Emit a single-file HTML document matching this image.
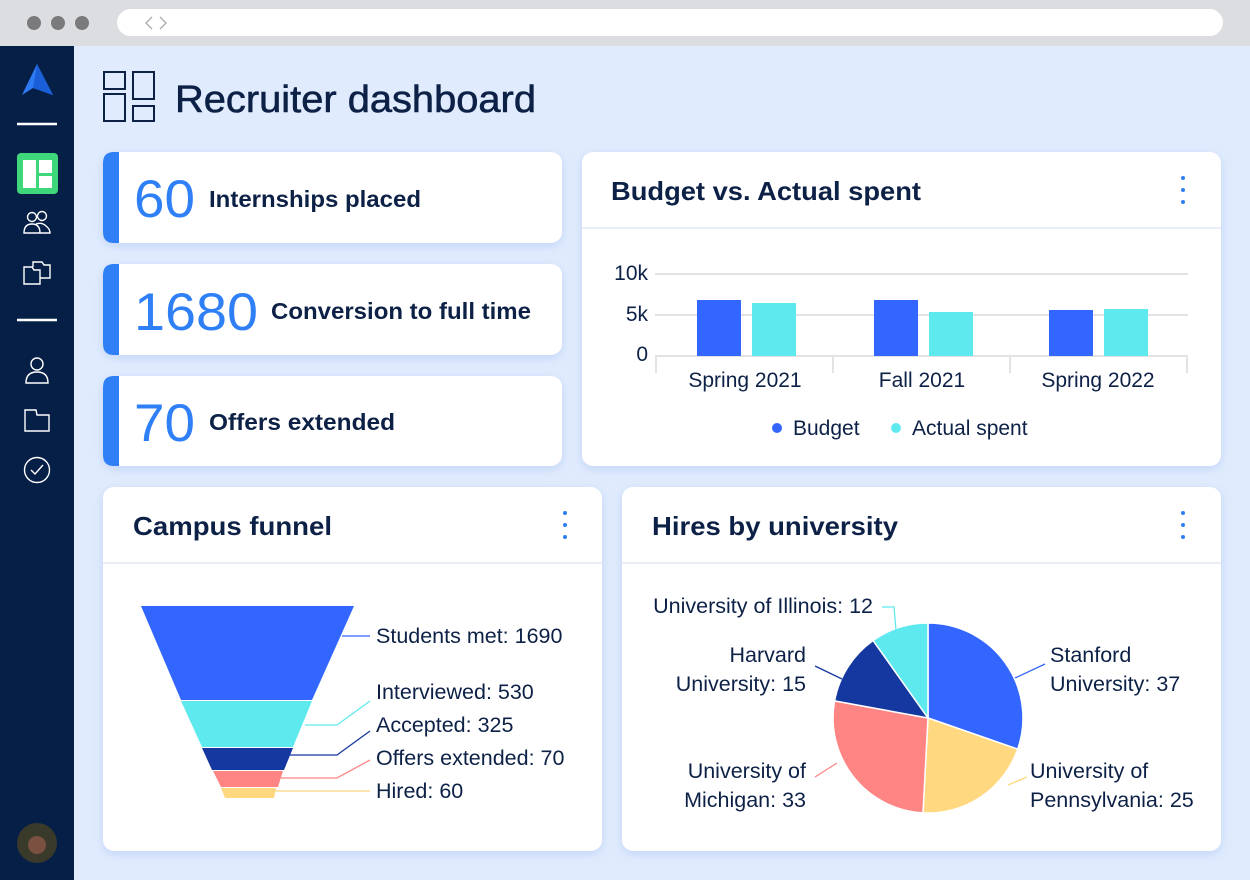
<!DOCTYPE html>
<html><head><meta charset="utf-8"><style>
html,body{margin:0;padding:0;width:1250px;height:880px;overflow:hidden;background:#fff}
svg text{font-family:"Liberation Sans",sans-serif;fill:#0d2147}
</style></head><body>
<svg width="1250" height="880" viewBox="0 0 1250 880" xmlns="http://www.w3.org/2000/svg">
<defs>
<filter id="sh" x="-10%" y="-10%" width="120%" height="130%"><feDropShadow dx="0" dy="3" stdDeviation="5" flood-color="#9bb8f0" flood-opacity="0.45"/></filter>
</defs>
<rect x="0" y="0" width="1250" height="880" fill="#fff"/>
<rect x="0" y="0" width="1250" height="46" fill="#dcdde0"/>
<circle cx="34" cy="23" r="7" fill="#7a7a7c"/><circle cx="58" cy="23" r="7" fill="#7a7a7c"/><circle cx="82" cy="23" r="7" fill="#7a7a7c"/>
<rect x="117" y="9" width="1106" height="27" rx="13.5" fill="#fff"/>
<path d="M152 17 L146 23 L152 29 M160 17 L166 23 L160 29" stroke="#aaa" stroke-width="1.3" fill="none"/>
<rect x="74" y="46" width="1176" height="834" fill="#e0ebfd"/>
<rect x="0" y="46" width="74" height="834" fill="#061f46"/>
<path d="M37 64 L22 95 L33 88 L53 95 Z" fill="#2f7bf5"/><path d="M37 64 L33 88 L53 95 Z" fill="#1b5fd8"/>
<line x1="17" y1="124" x2="57" y2="124" stroke="#fff" stroke-width="2.5"/>
<rect x="17" y="153" width="41" height="41" rx="4" fill="#3ed87a"/>
<rect x="23" y="160" width="13" height="28" fill="#fff"/><rect x="39" y="160" width="13" height="13" fill="#fff"/><rect x="39" y="176" width="13" height="12" fill="#fff"/>
<g stroke="#fff" stroke-width="1.4" fill="none">
<circle cx="32" cy="217" r="4.5"/><circle cx="42" cy="216" r="4.5"/><path d="M24 233 Q24 224 32 224 Q40 224 40 233 Z M36 224 Q42 222 46 226 Q50 229 50 233 L40 233"/>
<path d="M24 270 L24 284 L40 284 L40 270 L34 270 L32 267 L24 267 Z"/><path d="M33 267 L33 262 L42 262 L44 265 L50 265 L50 278 L40 278"/>
<line x1="17" y1="320" x2="57" y2="320" stroke-width="2.5"/>
<circle cx="37" cy="364" r="6"/><path d="M26 383 Q26 372 37 372 Q48 372 48 383 Z"/>
<path d="M25 410 L25 431 L49 431 L49 415 L37 415 L36 410 Z"/>
<circle cx="37" cy="470" r="12.5"/><path d="M31 470 L35 474 L43 465"/>
</g>
<circle cx="37" cy="843" r="20" fill="#3a3a2a"/><circle cx="37" cy="845" r="9" fill="#7a5040"/>
<g stroke="#0d2147" stroke-width="2" fill="none">
<rect x="104" y="72" width="21" height="17"/><rect x="104" y="94" width="21" height="27"/><rect x="133" y="72" width="21" height="27"/><rect x="133" y="106" width="21" height="15"/>
</g>
<text x="175" y="112" font-size="38" textLength="361" lengthAdjust="spacingAndGlyphs" style="stroke:#0d2147;stroke-width:0.6">Recruiter dashboard</text>
<g filter="url(#sh)">
<rect x="103" y="152" width="459" height="91" rx="11" fill="#fff"/>
<rect x="103" y="264" width="459" height="91" rx="11" fill="#fff"/>
<rect x="103" y="376" width="459" height="90" rx="11" fill="#fff"/>
<rect x="582" y="152" width="639" height="314" rx="11" fill="#fff"/>
<rect x="103" y="487" width="499" height="364" rx="11" fill="#fff"/>
<rect x="622" y="487" width="599" height="364" rx="11" fill="#fff"/>
</g>
<path d="M119 152 L114 152 Q103 152 103 163 L103 232 Q103 243 114 243 L119 243 Z" fill="#2f80f6"/>
<path d="M119 264 L114 264 Q103 264 103 275 L103 344 Q103 355 114 355 L119 355 Z" fill="#2f80f6"/>
<path d="M119 376 L114 376 Q103 376 103 387 L103 455 Q103 466 114 466 L119 466 Z" fill="#2f80f6"/>
<text x="134" y="217" font-size="53" textLength="61" lengthAdjust="spacingAndGlyphs" style="fill:#2f80f6">60</text>
<text x="209" y="207" font-size="23" font-weight="bold" textLength="212" lengthAdjust="spacingAndGlyphs">Internships placed</text>
<text x="134" y="330" font-size="53" textLength="124" lengthAdjust="spacingAndGlyphs" style="fill:#2f80f6">1680</text>
<text x="271" y="319" font-size="23" font-weight="bold" textLength="260" lengthAdjust="spacingAndGlyphs">Conversion to full time</text>
<text x="134" y="441" font-size="53" textLength="61" lengthAdjust="spacingAndGlyphs" style="fill:#2f80f6">70</text>
<text x="209" y="430" font-size="23" font-weight="bold" textLength="186" lengthAdjust="spacingAndGlyphs">Offers extended</text>
<text x="611" y="200" font-size="26" font-weight="bold" textLength="310" lengthAdjust="spacingAndGlyphs">Budget vs. Actual spent</text>
<g fill="#2f80f6"><circle cx="1183" cy="178" r="2"/><circle cx="1183" cy="190" r="2"/><circle cx="1183" cy="202" r="2"/>
<circle cx="565" cy="513" r="2"/><circle cx="565" cy="525" r="2"/><circle cx="565" cy="537" r="2"/>
<circle cx="1183" cy="513" r="2"/><circle cx="1183" cy="525" r="2"/><circle cx="1183" cy="537" r="2"/></g>
<line x1="582" y1="228" x2="1221" y2="228" stroke="#e3e9f3" stroke-width="1.5"/>
<line x1="103" y1="563" x2="602" y2="563" stroke="#e3e9f3" stroke-width="1.5"/>
<line x1="622" y1="563" x2="1221" y2="563" stroke="#e3e9f3" stroke-width="1.5"/>
<g stroke="#e3e3e6" stroke-width="2"><line x1="655" y1="274" x2="1188" y2="274"/><line x1="655" y1="315" x2="1188" y2="315"/><line x1="655" y1="356" x2="1188" y2="356"/>
<line x1="656" y1="356" x2="656" y2="373"/><line x1="833" y1="356" x2="833" y2="373"/><line x1="1010" y1="356" x2="1010" y2="373"/><line x1="1187" y1="356" x2="1187" y2="373"/></g>
<g font-size="21"><text x="648" y="280" text-anchor="end">10k</text><text x="648" y="321" text-anchor="end">5k</text><text x="648" y="361" text-anchor="end">0</text>
<text x="745" y="387" text-anchor="middle">Spring 2021</text><text x="922" y="387" text-anchor="middle">Fall 2021</text><text x="1098" y="387" text-anchor="middle">Spring 2022</text>
<text x="793" y="435">Budget</text><text x="912" y="435">Actual spent</text></g>
<rect x="697" y="300" width="44" height="56" fill="#3366ff"/><rect x="752" y="303" width="44" height="53" fill="#5ee9ef"/>
<rect x="874" y="300" width="44" height="56" fill="#3366ff"/><rect x="929" y="312" width="44" height="44" fill="#5ee9ef"/>
<rect x="1049" y="310" width="44" height="46" fill="#3366ff"/><rect x="1104" y="309" width="44" height="47" fill="#5ee9ef"/>
<circle cx="777" cy="428" r="5" fill="#3366ff"/><circle cx="896" cy="428" r="5" fill="#5ee9ef"/>
<text x="133" y="535" font-size="26" font-weight="bold" textLength="199" lengthAdjust="spacingAndGlyphs">Campus funnel</text>
<polygon points="141,606 354,606 312,700 181,700" fill="#3366ff"/>
<polygon points="181,701 312,701 293,747 202,747" fill="#5ee9ef"/>
<polygon points="202,748 293,748 284,770 212,770" fill="#1537a0"/>
<polygon points="213,771 283,771 278,787 221,787" fill="#ff8585"/>
<polygon points="221,788 276,788 274,798 225,798" fill="#ffd880"/>
<g fill="none" stroke-width="1.3">
<path d="M342 636 H370" stroke="#3366ff"/>
<path d="M305 725 H337 L370 701" stroke="#5ee9ef"/>
<path d="M290 755 H337 L370 731" stroke="#1537a0"/>
<path d="M281 778 H337 L370 760" stroke="#ff8585"/>
<path d="M275 791 H370" stroke="#ffd880"/>
</g>
<g font-size="21.5"><text x="376" y="643">Students met: 1690</text><text x="376" y="699">Interviewed: 530</text><text x="376" y="732">Accepted: 325</text><text x="376" y="765">Offers extended: 70</text><text x="376" y="798">Hired: 60</text></g>
<text x="652" y="535" font-size="26" font-weight="bold" textLength="246" lengthAdjust="spacingAndGlyphs">Hires by university</text>
<g stroke="#fff" stroke-width="1.5">
<path d="M928 718 L928 623 A95 95 0 0 1 1017.7 749.2 Z" fill="#3366ff"/>
<path d="M928 718 L1017.7 749.2 A95 95 0 0 1 923 812.9 Z" fill="#ffd880"/>
<path d="M928 718 L923 812.9 A95 95 0 0 1 834.6 700.9 Z" fill="#ff8585"/>
<path d="M928 718 L834.6 700.9 A95 95 0 0 1 873.1 640.5 Z" fill="#1537a0"/>
<path d="M928 718 L873.1 640.5 A95 95 0 0 1 928 623 Z" fill="#5ee9ef"/>
</g>
<g fill="none" stroke-width="1.3">
<path d="M1015 678 L1045 664" stroke="#3366ff"/>
<path d="M1008 785 L1027 777" stroke="#ffd880"/>
<path d="M837 763 L815 777" stroke="#ff8585"/>
<path d="M842 679 L815 666" stroke="#1537a0"/>
<path d="M896 630 L894 607 H882" stroke="#5ee9ef"/>
</g>
<g font-size="21.5">
<text x="873" y="613" text-anchor="end">University of Illinois: 12</text>
<text x="806" y="662" text-anchor="end">Harvard</text><text x="806" y="691" text-anchor="end">University: 15</text>
<text x="806" y="778" text-anchor="end">University of</text><text x="806" y="807" text-anchor="end">Michigan: 33</text>
<text x="1050" y="662">Stanford</text><text x="1050" y="691">University: 37</text>
<text x="1030" y="778">University of</text><text x="1030" y="807">Pennsylvania: 25</text>
</g>
</svg>
</body></html>
